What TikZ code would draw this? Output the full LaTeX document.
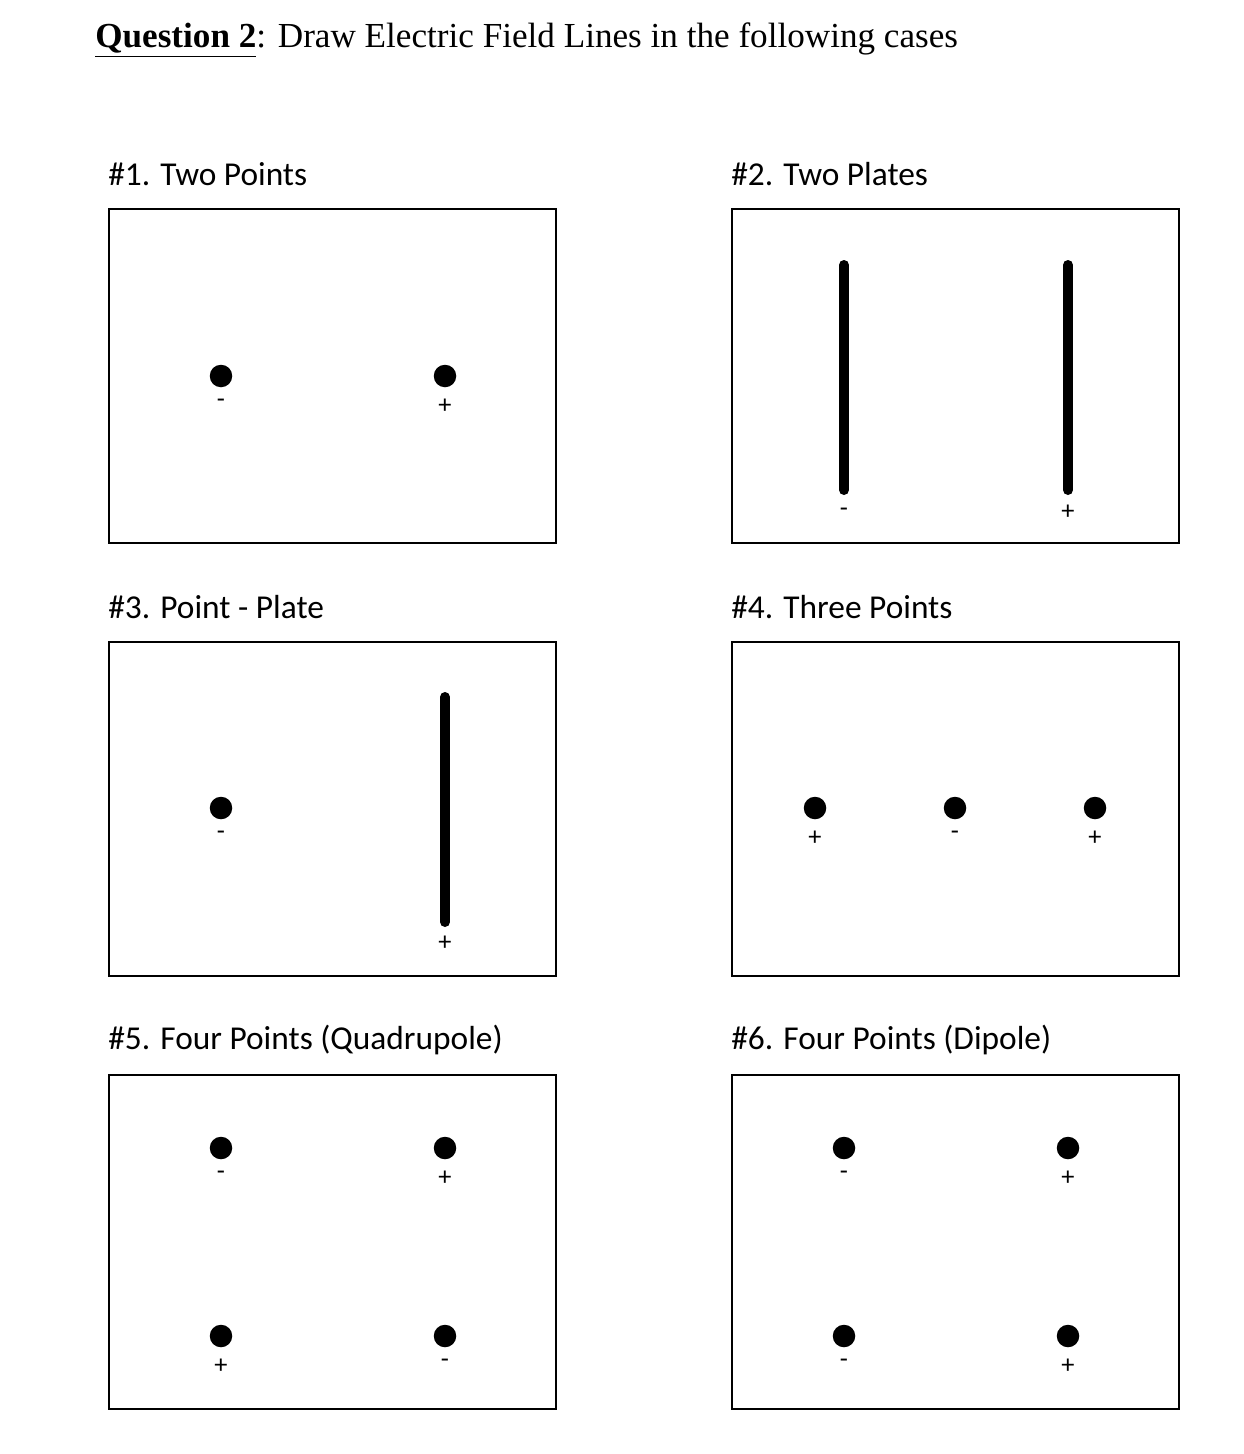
\documentclass[tikz,border=0pt]{standalone}
\usepackage{fontspec}
\setmainfont{Liberation Serif}
\newfontfamily\labelfont{Carlito}
\usetikzlibrary{positioning}
\tikzset{
    panel/.style={draw, line width=1.1pt},
    charge/.style={circle, fill=black, inner sep=0pt, minimum size=0.45cm},
    sign/.style={font=\labelfont\fontsize{15}{18}\selectfont, inner sep=0pt},
    heading/.style={anchor=west, font=\labelfont\fontsize{19}{22}\selectfont, inner sep=0pt},
    plate/.style={line width=0.2cm, line cap=round}
}
% charge at (#1,#2), sign #3, name #4
\newcommand{\chargeAt}[4]{
    \node[charge] (#4) at (#1,#2) {};
    \node[sign, below=0.22cm of #4] (#4s) {#3};
}
\begin{document}
\begin{tikzpicture}[x=0.02cm,y=-0.02cm]
            \useasboundingbox[fill=white] (0,0) rectangle (1244,1454);
            \node[anchor=west, inner sep=0pt, font=\fontsize{20}{24}\selectfont] (title) at (95,40) {\underline{\textbf{Question 2}}: Draw Electric Field Lines in the following cases};

            \node[heading] (h1) at (108,174) {\#1. Two Points};
            \node[heading] (h2) at (731,174) {\#2. Two Plates};
            \node[heading] (h3) at (108,607) {\#3. Point - Plate};
            \node[heading] (h4) at (731,607) {\#4. Three Points};
            \node[heading] (h5) at (108,1040) {\#5. Four Points (Quadrupole)};
            \node[heading] (h6) at (731,1040) {\#6. Four Points (Dipole)};

            \draw[panel] (109,209) rectangle (556,543);
            \draw[panel] (732,209) rectangle (1179,543);
            \draw[panel] (109,642) rectangle (556,976);
            \draw[panel] (732,642) rectangle (1179,976);
            \draw[panel] (109,1075) rectangle (556,1409);
            \draw[panel] (732,1075) rectangle (1179,1409);

            % 1
            \chargeAt{221}{376}{-}{a1};
            \chargeAt{445}{376}{+}{a2};
            % 2
            \draw[plate] (844,265) -- (844,490);
            \node[sign] (b1s) at (844,512) {-};
            \draw[plate] (1068,265) -- (1068,490);
            \node[sign] (b2s) at (1068,512) {+};
            % 3
            \chargeAt{221}{808}{-}{c1};
            \draw[plate] (445,697) -- (445,922);
            \node[sign] (c2s) at (445,943) {+};
            % 4
            \chargeAt{815}{808}{+}{d1};
            \chargeAt{955}{808}{-}{d2};
            \chargeAt{1095}{808}{+}{d3};
            % 5
            \chargeAt{221}{1148}{-}{e1};
            \chargeAt{445}{1148}{+}{e2};
            \chargeAt{221}{1336}{+}{e3};
            \chargeAt{445}{1336}{-}{e4};
            % 6
            \chargeAt{844}{1148}{-}{f1};
            \chargeAt{1068}{1148}{+}{f2};
            \chargeAt{844}{1336}{-}{f3};
            \chargeAt{1068}{1336}{+}{f4};
        \end{tikzpicture}
\end{document}
